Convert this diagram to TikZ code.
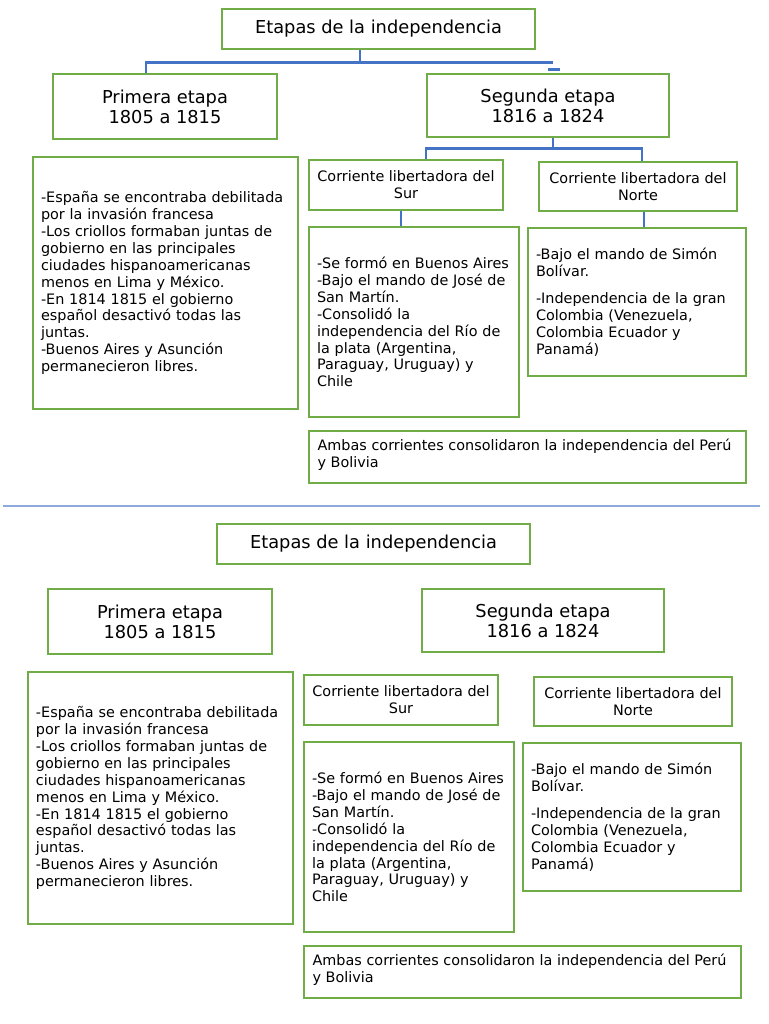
\documentclass[tikz,border=0pt]{standalone}
\usepackage{fontspec}
\setmainfont{DejaVu Sans}
\definecolor{verde}{HTML}{70AD47}
\definecolor{azul}{HTML}{4472C4}
\definecolor{celeste}{HTML}{8FAADC}
\begin{document}
\begin{tikzpicture}[x=0.75pt,y=-0.75pt,
	caja/.style={draw=verde,line width=1pt,inner sep=0pt,align=center,font=\fontsize{13.35}{15.2}\selectfont},
	rama/.style={draw=verde,line width=1pt,inner sep=0pt,align=center,font=\fontsize{10.8}{12.7}\selectfont},
	lista/.style={draw=verde,line width=1pt,inner xsep=6pt,inner ysep=0pt,align=left,font=\fontsize{10.8}{12.7}\selectfont},
	conector/.style={draw=azul,line width=1.9pt}]
	\useasboundingbox (0,0) rectangle (768,1024);
	\foreach \p/\dx/\dy in {a/0/0,b/-5/515}{
	\begin{scope}[shift={(\dx,\dy)}]
		\node[caja,minimum width=234.75pt,minimum height=30pt] (\p-titulo) at (378.5,29) {Etapas de la independencia};
		\node[caja,minimum width=168pt,minimum height=48.75pt] (\p-primera) at (165,106.5) {Primera etapa\\1805 a 1815};
		\node[caja,minimum width=181.5pt,minimum height=47.25pt] (\p-segunda) at (548,105.5) {Segunda etapa\\1816 a 1824};
		\node[rama,minimum width=145.5pt,minimum height=37.5pt] (\p-sur) at (406,185) {Corriente libertadora del\\Sur};
		\node[rama,minimum width=148.5pt,minimum height=36.75pt] (\p-norte) at (638,186.5) {Corriente libertadora del\\Norte};
		\node[lista,text width=186.75pt,minimum height=189pt] (\p-txtprimera) at (165.5,283) {-España se encontraba debilitada\\por la invasión francesa\\-Los criollos formaban juntas de\\gobierno en las principales\\ciudades hispanoamericanas\\menos en Lima y México.\\-En 1814 1815 el gobierno\\español desactivó todas las\\juntas.\\-Buenos Aires y Asunción\\permanecieron libres.};
		\node[lista,text width=145.5pt,minimum height=142.5pt] (\p-txtsur) at (414,322) {-Se formó en Buenos Aires\\-Bajo el mando de José de\\San Martín.\\-Consolidó la\\independencia del Río de\\la plata (Argentina,\\Paraguay, Uruguay) y\\Chile};
		\node[lista,text width=151.5pt,minimum height=111pt] (\p-txtnorte) at (637,302) {-Bajo el mando de Simón\\Bolívar.\\[7.5pt]-Independencia de la gran\\Colombia (Venezuela,\\Colombia Ecuador y\\Panamá)};
		\node[rama,minimum width=327.75pt,minimum height=39pt] (\p-ambas) at (527.5,457) {};
		\node[anchor=north west,inner sep=0pt,align=left,font=\fontsize{10.8}{12.7}\selectfont] (\p-ambastxt) at ([xshift=6.75pt,yshift=-6pt]\p-ambas.north west) {Ambas corrientes consolidaron la independencia del Perú\\y Bolivia};
	\end{scope}
	}
	\draw[conector] ([xshift=-13.9pt]a-titulo.south) -- ++(0,13) coordinate (a-cruce) -| ([xshift=-14.25pt]a-primera.north);
	\draw[conector] (a-cruce) -- ([xshift=3.75pt]a-cruce -| a-segunda.north);
	\draw[conector] ([yshift=3pt]a-segunda.north) -- ++(12,0);
	\draw[conector] ([xshift=3.75pt]a-segunda.south) -- ++(0,11) coordinate (a-cruce2) -| ([xshift=15pt]a-sur.north);
	\draw[conector] (a-cruce2) -| ([xshift=3pt]a-norte.north);
	\draw[conector] ([xshift=-3.75pt]a-sur.south) -- ([xshift=-3.75pt]a-sur.south |- a-txtsur.north);
	\draw[conector] ([xshift=4.5pt]a-norte.south) -- ([xshift=4.5pt]a-norte.south |- a-txtnorte.north);
	\draw[celeste,line width=0.8pt] (3,506) -- (760,506);
\end{tikzpicture}
\end{document}
